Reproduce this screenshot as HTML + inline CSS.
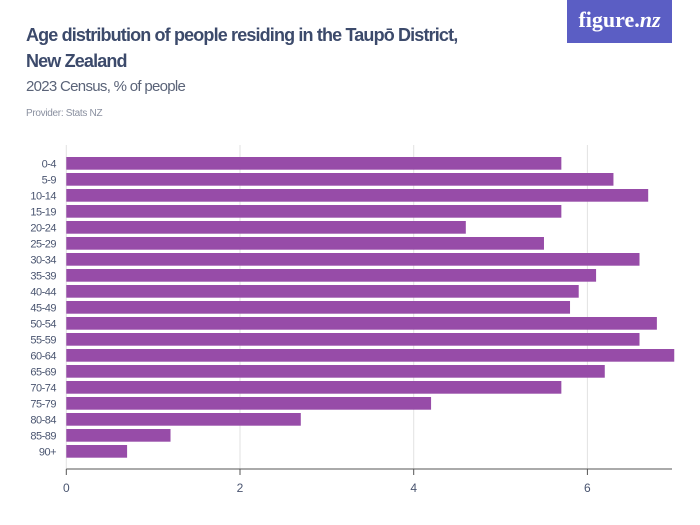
<!DOCTYPE html>
<html><head><meta charset="utf-8"><style>
body{margin:0;background:#fff;font-family:"Liberation Sans",sans-serif;}
#wrap{position:relative;width:700px;height:525px;overflow:hidden;}
.t{position:absolute;white-space:nowrap;}
</style></head><body>
<div id="wrap">
<div class="t" style="left:26px;top:22px;font-size:18px;line-height:26px;color:#3c4a6b;font-weight:bold;letter-spacing:-0.85px;">Age distribution of people residing in the Taupō District,<br>New Zealand</div>
<div class="t" style="left:26px;top:78px;font-size:15px;color:#5a6378;letter-spacing:-0.7px;">2023 Census, % of people</div>
<div class="t" style="left:26px;top:108px;font-size:10px;color:#8a90a0;letter-spacing:-0.3px;">Provider: Stats NZ</div>
<div style="position:absolute;left:567px;top:0;width:105px;height:43px;background:#5b5ec4;color:#fff;font-family:'Liberation Serif',serif;font-size:22px;font-weight:bold;text-align:center;line-height:40px;">figure.<i>nz</i></div>
<svg id="chart" width="700" height="525" style="position:absolute;left:0;top:0"></svg>
</div>
<script>
const categories=["0-4","5-9","10-14","15-19","20-24","25-29","30-34","35-39","40-44","45-49","50-54","55-59","60-64","65-69","70-74","75-79","80-84","85-89","90+"];
const values=[5.7,6.3,6.7,5.7,4.6,5.5,6.6,6.1,5.9,5.8,6.8,6.6,7.0,6.2,5.7,4.2,2.7,1.2,0.7];
const ticks=[0,2,4,6];
const svg=document.getElementById('chart');
const NS='http://www.w3.org/2000/svg';
const x0=66.3,unit=86.85,yTop=157,step=16,bh=12.7,axisY=469;
const X=v=>x0+v*unit;
const Y=i=>yTop+i*step;
function mk(tag,attrs){const e=document.createElementNS(NS,tag);for(const k in attrs)e.setAttribute(k,attrs[k]);svg.appendChild(e);return e;}
ticks.forEach(t=>{
 const g=mk('line',{x1:X(t),x2:X(t),y1:145,y2:axisY,stroke:'#e2e2e2','stroke-width':1});
 
 
 const tk=mk('line',{x1:X(t),x2:X(t),y1:axisY,y2:axisY+6,stroke:'#555','stroke-width':1});
 
 
 const l=mk('text',{x:X(t),y:axisY+23,'text-anchor':'middle','font-size':12,fill:'#4a5570','font-family':'Liberation Sans, sans-serif'});
 l.textContent=t;
 
 
});
const ax=mk('line',{x1:x0,x2:672,y1:axisY,y2:axisY,stroke:'#555','stroke-width':1});


categories.forEach((c,i)=>{
 const r=mk('rect',{x:x0,y:Y(i),width:X(values[i])-x0,height:bh,fill:'#974ca8'});
 
 
 const l=mk('text',{x:56,y:Y(i)+bh/2+4,'text-anchor':'end','font-size':11,fill:'#4a5570','font-family':'Liberation Sans, sans-serif','letter-spacing':'-0.5'});
 l.textContent=c;
 
 
});
</script>
</body></html>
